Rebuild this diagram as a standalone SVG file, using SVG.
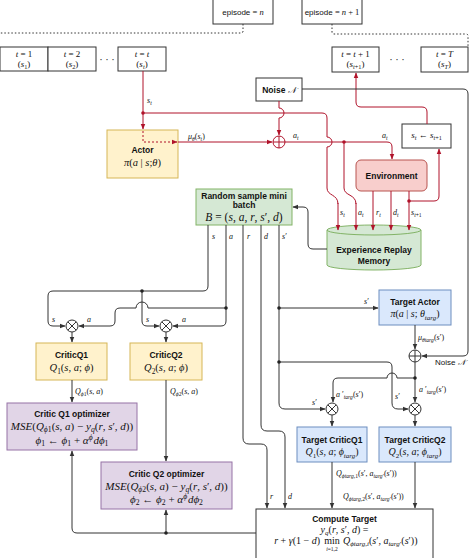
<svg xmlns="http://www.w3.org/2000/svg" width="474" height="558" viewBox="0 0 474 558">
<defs>
<marker id="ag" viewBox="0 0 10 10" refX="9" refY="5" markerWidth="6" markerHeight="6" orient="auto" markerUnits="userSpaceOnUse"><path d="M0,1 L10,5 L0,9 z" fill="#333"/></marker>
<marker id="ar" viewBox="0 0 10 10" refX="9" refY="5" markerWidth="6" markerHeight="6" orient="auto" markerUnits="userSpaceOnUse"><path d="M0,1 L10,5 L0,9 z" fill="#b0122a"/></marker>
</defs>
<style>
.bx{fill:#fff;stroke:#333;stroke-width:1}
.yel{fill:#fff2cc;stroke:#d6b656}
.grn{fill:#d5e8d4;stroke:#82b366}
.pnk{fill:#f8cecc;stroke:#b85450}
.blu{fill:#dae8fc;stroke:#6c8ebf}
.pur{fill:#e1d5e7;stroke:#9673a6}
.g{fill:none;stroke:#333;stroke-width:1}
.r{fill:none;stroke:#b0122a;stroke-width:1}
.ga{marker-end:url(#ag)}
.ra{marker-end:url(#ar)}
.dot{stroke-dasharray:1.5 2}
.dr{stroke-dasharray:2 2}
.b{font-family:"Liberation Sans",Arial,sans-serif;font-weight:bold;font-size:8.5px;text-anchor:middle;fill:#111}
.t{font-family:"Liberation Sans",Arial,sans-serif;font-size:8px;fill:#111}
.m{font-family:"Liberation Serif","DejaVu Serif",serif;font-size:10.5px;text-anchor:middle;fill:#111}
.l{font-family:"Liberation Serif","DejaVu Serif",serif;font-size:8px;fill:#111}
.i{font-style:italic}
.s{font-size:70%}
.c{text-anchor:middle}
.e{text-anchor:end}
.st{text-anchor:start}
</style>

<g id="episode-n"><rect class="bx" x="213" y="-6" width="60" height="30"/><text class="t c" x="243" y="15">episode <tspan class="m" style="font-size:8.5px">= </tspan><tspan class="m i" style="font-size:8.5px">n</tspan></text></g>
<g id="episode-n1"><rect class="bx" x="302" y="-6" width="60" height="30"/><text class="t c" x="332" y="15">episode <tspan class="m" style="font-size:8.5px">= </tspan><tspan class="m i" style="font-size:8.5px">n</tspan><tspan class="m" style="font-size:8.5px"> + 1</tspan></text></g>

<g id="t1"><rect class="bx" x="0" y="47" width="48" height="24"/><text class="m" style="font-size:9px" x="24" y="57"><tspan class="i">t</tspan> = 1</text><text class="m" style="font-size:9px" x="24" y="67">(<tspan class="i">s</tspan><tspan class="s" dy="2">1</tspan><tspan dy="-2">)</tspan></text></g>
<g id="t2"><rect class="bx" x="48" y="47" width="48" height="24"/><text class="m" style="font-size:9px" x="72" y="57"><tspan class="i">t</tspan> = 2</text><text class="m" style="font-size:9px" x="72" y="67">(<tspan class="i">s</tspan><tspan class="s" dy="2">2</tspan><tspan dy="-2">)</tspan></text></g>
<text class="m" x="107" y="63">· · ·</text>
<g id="tt"><rect class="bx" x="118" y="47" width="48" height="24"/><text class="m" style="font-size:9px" x="142" y="57"><tspan class="i">t</tspan> = <tspan class="i">t</tspan></text><text class="m" style="font-size:9px" x="142" y="67">(<tspan class="i">s</tspan><tspan class="s i" dy="2">t</tspan><tspan dy="-2">)</tspan></text></g>
<g id="tt1"><rect class="bx" x="332" y="47" width="47" height="25"/><text class="m" style="font-size:9px" x="355.5" y="57"><tspan class="i">t</tspan> = <tspan class="i">t</tspan> + 1</text><text class="m" style="font-size:9px" x="355.5" y="67">(<tspan class="i">s</tspan><tspan class="s i" dy="2">t</tspan><tspan class="s">+1</tspan><tspan dy="-2">)</tspan></text></g>
<text class="m" x="397" y="63">· · ·</text>
<g id="tT"><rect class="bx" x="421" y="47" width="47" height="25"/><text class="m" style="font-size:9px" x="444.5" y="57"><tspan class="i">t</tspan> = <tspan class="i">T</tspan></text><text class="m" style="font-size:9px" x="444.5" y="67">(<tspan class="i">s</tspan><tspan class="s i" dy="2">T</tspan><tspan dy="-2">)</tspan></text></g>

<g id="noise"><rect class="bx" x="256" y="78" width="46" height="23"/><text class="b" x="279" y="93">Noise <tspan style="font-family:'DejaVu Serif',serif;font-weight:normal;font-style:italic">𝒩</tspan></text></g>
<g id="actor"><rect class="yel" x="107" y="130" width="71" height="48"/><text class="b" x="142.5" y="153">Actor</text><text class="m" x="142.5" y="166"><tspan class="i">π</tspan>(<tspan class="i">a</tspan> | <tspan class="i">s</tspan>;<tspan class="i">θ</tspan>)</text></g>
<g id="env"><rect class="pnk" x="356" y="160" width="71" height="31" rx="5"/><text class="b" x="391.5" y="179">Environment</text></g>
<g id="sbox"><rect class="bx" x="402" y="124" width="49" height="24"/><text class="m" style="font-size:9px" x="426.5" y="138"><tspan class="i">s</tspan><tspan class="s i" dy="2">t</tspan><tspan dy="-2"> ← </tspan><tspan class="i">s</tspan><tspan class="s i" dy="2">t</tspan><tspan class="s">+1</tspan></text></g>
<g id="sample"><rect class="grn" x="196" y="189" width="96" height="36"/><text class="b" x="244" y="199">Random sample mini</text><text class="b" x="244" y="208">batch</text><text class="m" style="font-size:11.5px" x="244" y="221"><tspan class="i">B</tspan> = (<tspan class="i">s</tspan>, <tspan class="i">a</tspan>, <tspan class="i">r</tspan>, <tspan class="i">s</tspan>′, <tspan class="i">d</tspan>)</text></g>
<g id="memory"><path class="grn" d="M327 230 A47 5 0 0 1 421 230 V265 A47 5 0 0 1 327 265 Z"/><path class="grn" d="M327 230 A47 5 0 0 0 421 230"/><text class="b" x="374" y="253">Experience Replay</text><text class="b" x="374" y="264">Memory</text></g>
<g id="targetactor"><rect class="blu" x="379" y="290" width="72" height="35"/><text class="b" x="415" y="305">Target Actor</text><text class="m" style="font-size:10px" x="415" y="317"><tspan class="i">π</tspan>(<tspan class="i">a</tspan> | <tspan class="i">s</tspan>; <tspan class="i">θ</tspan><tspan class="s i" dy="2.5">targ</tspan><tspan dy="-2.5">)</tspan></text></g>
<g id="criticq1"><rect class="yel" x="36" y="343" width="71" height="37"/><text class="b" x="71.5" y="358">CriticQ1</text><text class="m" x="71.5" y="371"><tspan class="i">Q</tspan><tspan class="s" dy="2.5">1</tspan><tspan dy="-2.5">(</tspan><tspan class="i">s</tspan>, <tspan class="i">a</tspan>; <tspan class="i">ϕ</tspan>)</text></g>
<g id="criticq2"><rect class="yel" x="130" y="343" width="72" height="37"/><text class="b" x="166" y="358">CriticQ2</text><text class="m" x="166" y="371"><tspan class="i">Q</tspan><tspan class="s" dy="2.5">2</tspan><tspan dy="-2.5">(</tspan><tspan class="i">s</tspan>, <tspan class="i">a</tspan>; <tspan class="i">ϕ</tspan>)</text></g>
<g id="opt1"><rect class="pur" x="7" y="403" width="130" height="47"/><text class="b" x="72" y="417">Critic Q1 optimizer</text><text class="m" style="font-size:11px" x="72" y="430"><tspan class="i">MSE</tspan>(<tspan class="i">Q</tspan><tspan class="s i" dy="2">ϕ</tspan><tspan class="s">1</tspan><tspan dy="-2">(</tspan><tspan class="i">s</tspan>, <tspan class="i">a</tspan>) − <tspan class="i">y</tspan><tspan class="s i" dy="2">q</tspan><tspan dy="-2">(</tspan><tspan class="i">r</tspan>, <tspan class="i">s</tspan>′, <tspan class="i">d</tspan>))</text><text class="m" style="font-size:11px" x="72" y="443.5"><tspan class="i">ϕ</tspan><tspan class="s" dy="2">1</tspan><tspan dy="-2"> ← </tspan><tspan class="i">ϕ</tspan><tspan class="s" dy="2">1</tspan><tspan dy="-2"> + </tspan><tspan class="i">α</tspan><tspan class="s i" dy="-4">ϕ</tspan><tspan class="i" dy="4" dx="0.8">dϕ</tspan><tspan class="s" dy="2">1</tspan></text></g>
<g id="opt2"><rect class="pur" x="101" y="462" width="131" height="47"/><text class="b" x="166.5" y="477">Critic Q2 optimizer</text><text class="m" style="font-size:11px" x="166.5" y="490"><tspan class="i">MSE</tspan>(<tspan class="i">Q</tspan><tspan class="s i" dy="2">ϕ</tspan><tspan class="s">2</tspan><tspan dy="-2">(</tspan><tspan class="i">s</tspan>, <tspan class="i">a</tspan>) − <tspan class="i">y</tspan><tspan class="s i" dy="2">q</tspan><tspan dy="-2">(</tspan><tspan class="i">r</tspan>, <tspan class="i">s</tspan>′, <tspan class="i">d</tspan>))</text><text class="m" style="font-size:11px" x="166.5" y="503"><tspan class="i">ϕ</tspan><tspan class="s" dy="2">2</tspan><tspan dy="-2"> ← </tspan><tspan class="i">ϕ</tspan><tspan class="s" dy="2">2</tspan><tspan dy="-2"> + </tspan><tspan class="i">α</tspan><tspan class="s i" dy="-4">ϕ</tspan><tspan class="i" dy="4" dx="0.8">dϕ</tspan><tspan class="s" dy="2">2</tspan></text></g>
<g id="tcq1"><rect class="blu" x="297" y="427" width="70" height="35"/><text class="b" x="332" y="443">Target CriticQ1</text><text class="m" style="font-size:10px" x="332" y="455"><tspan class="i">Q</tspan><tspan class="s" dy="2.5">1</tspan><tspan dy="-2.5">(</tspan><tspan class="i">s</tspan>, <tspan class="i">a</tspan>; <tspan class="i">ϕ</tspan><tspan class="s i" dy="2.5">targ</tspan><tspan dy="-2.5">)</tspan></text></g>
<g id="tcq2"><rect class="blu" x="379" y="427" width="72" height="35"/><text class="b" x="415" y="443">Target CriticQ2</text><text class="m" style="font-size:10px" x="415" y="455"><tspan class="i">Q</tspan><tspan class="s" dy="2.5">2</tspan><tspan dy="-2.5">(</tspan><tspan class="i">s</tspan>, <tspan class="i">a</tspan>; <tspan class="i">ϕ</tspan><tspan class="s i" dy="2.5">targ</tspan><tspan dy="-2.5">)</tspan></text></g>
<g id="compute"><rect class="bx" x="256" y="509" width="177" height="52"/><text class="b" x="344.5" y="522">Compute Target</text><text class="m" style="font-size:10px" x="344.5" y="532.5"><tspan class="i">y</tspan><tspan class="s i" dy="2">q</tspan><tspan dy="-2">(</tspan><tspan class="i">r</tspan>, <tspan class="i">s</tspan>′, <tspan class="i">d</tspan>) =</text><text class="m e" style="font-size:10px" x="320" y="544"><tspan class="i">r</tspan> + <tspan class="i">γ</tspan>(1 − <tspan class="i">d</tspan>)</text><text class="m" style="font-size:10px" x="332" y="544">min</text><text class="l c" style="font-size:5.5px" x="332" y="551"><tspan class="i">i</tspan>=1,2</text><text class="m st" style="font-size:10px" x="343" y="544"><tspan class="i">Q</tspan><tspan class="s i" dy="2">ϕtarg,i</tspan><tspan dy="-2">(</tspan><tspan class="i">s</tspan>′, <tspan class="i">a</tspan><tspan class="s i" dy="2">targ</tspan><tspan class="s">′</tspan><tspan dy="-2">(</tspan><tspan class="i">s</tspan>′))</text></g>

<g id="ops">
<circle cx="279" cy="142" r="6" fill="#fff" stroke="#b0122a"/><path class="r" d="M273 142 H285 M279 136 V148"/>
<circle cx="415" cy="356" r="6" fill="#fff" stroke="#333"/><path class="g" d="M409 356 H421 M415 350 V362"/>
<circle cx="72" cy="326" r="6" fill="#fff" stroke="#333"/><path class="g" d="M67.8 321.8 L76.2 330.2 M76.2 321.8 L67.8 330.2"/>
<circle cx="166" cy="326" r="6" fill="#fff" stroke="#333"/><path class="g" d="M161.8 321.8 L170.2 330.2 M170.2 321.8 L161.8 330.2"/>
<circle cx="332" cy="409" r="6" fill="#fff" stroke="#333"/><path class="g" d="M327.8 404.8 L336.2 413.2 M336.2 404.8 L327.8 413.2"/>
<circle cx="415" cy="409" r="6" fill="#fff" stroke="#333"/><path class="g" d="M410.8 404.8 L419.2 413.2 M419.2 404.8 L410.8 413.2"/>
</g>

<g id="connectors">
<path class="g dot" d="M243 24 V31 Q243 33 241 33 H0"/>
<path class="g dot" d="M332 24 V32 Q332 34 334 34 H466 Q468 34 468 36 V47"/>
<path class="r ra" d="M143 71 V129"/>
<path class="r dr ra" d="M143 131 V142 H177"/>
<path class="r" d="M143 113 H322 Q327 113 327 118 V137 A5 5 0 0 1 327 147 V188 C327 196 338 194 338 204"/>
<path class="r ra" d="M338 203 V230"/>
<path class="r ra" d="M279 101 V108 A5 5 0 0 1 279 118 V135"/>
<path class="r ra" d="M178 142 H272"/>
<path class="r ra" d="M285 142 H387 Q392 142 392 147 V159"/>
<path class="r" d="M344 142 V188 C344 196 356 194 356 204"/>
<path class="r ra" d="M356 203 V230"/>
<path class="r ra" d="M373 191 V230"/>
<path class="r ra" d="M391 191 V230"/>
<path class="r ra" d="M409 191 V230"/>
<path class="r ra" d="M409 201 H434 Q439 201 439 196 V149"/>
<path class="r ra" d="M427 124 V112 Q427 107 422 107 H361 Q356 107 356 102 V73"/>
<g fill="#b0122a"><circle cx="143" cy="113" r="1.8"/><circle cx="344" cy="142" r="1.8"/><circle cx="409" cy="201" r="1.8"/></g>
<path class="g ga" d="M302 89 H463 Q468 89 468 94 V351 Q468 356 463 356 H422"/>
<path class="g ga" d="M327 249 H313 Q308 249 308 244 V212 Q308 207 303 207 H293"/>
<path class="g ga" d="M208 225 V286 Q208 291 203 291 H53 Q48 291 48 296 V321 Q48 326 53 326 H65"/>
<path class="g ga" d="M142 291 V321 Q142 326 147 326 H159"/>
<path class="g ga" d="M226 225 V321 Q226 326 221 326 H173"/>
<path class="g ga" d="M226 308 H148 A6 6 0 0 0 136 308 H120 Q115 308 115 313 V321 Q115 326 110 326 H79"/>
<path class="g ga" d="M72 332 V342"/>
<path class="g ga" d="M166 332 V342"/>
<path class="g ga" d="M72 380 V402"/>
<path class="g ga" d="M166 380 V461"/>
<path class="g ga" d="M256 533 H77 Q72 533 72 528 V451"/>
<path class="g ga" d="M166 533 V510"/>
<path class="g ga" d="M243 225 V438 Q243 444 249 444 H261 Q267 444 267 450 V508"/>
<path class="g ga" d="M261 225 V425 Q261 431 267 431 H279 Q285 431 285 437 V508"/>
<path class="g ga" d="M279 225 V403 Q279 409 285 409 H325"/>
<path class="g ga" d="M279 308 H378"/>
<path class="g ga" d="M279 362 H387 Q392 362 392 367 V403 Q392 409 398 409 H408"/>
<path class="g ga" d="M415 325 V349"/>
<path class="g ga" d="M415 362 V402"/>
<path class="g ga" d="M415 378 H397 A5 5 0 0 0 387 378 H338 Q333 378 333 383 V402"/>
<path class="g ga" d="M332 415 V426"/>
<path class="g ga" d="M415 415 V426"/>
<path class="g ga" d="M332 462 V508"/>
<path class="g ga" d="M415 462 V508"/>
<g fill="#222"><circle cx="142" cy="291" r="1.8"/><circle cx="226" cy="308" r="1.8"/><circle cx="166" cy="533" r="1.8"/><circle cx="279" cy="308" r="1.8"/><circle cx="279" cy="362" r="1.8"/><circle cx="415" cy="378" r="1.8"/></g>
</g>

<g id="labels">
<text class="l" x="147" y="103"><tspan class="i">s</tspan><tspan class="s i" dy="2">t</tspan></text>
<text class="l" x="188" y="139"><tspan class="i">μ</tspan><tspan class="s i" dy="2">θ</tspan><tspan dy="-2">(</tspan><tspan class="i">s</tspan><tspan class="s i" dy="2">t</tspan><tspan dy="-2">)</tspan></text>
<text class="l" x="293" y="138"><tspan class="i">a</tspan><tspan class="s i" dy="2">t</tspan></text>
<text class="l" x="382" y="138"><tspan class="i">a</tspan><tspan class="s i" dy="2">t</tspan></text>
<text class="l" x="340" y="215"><tspan class="i">s</tspan><tspan class="s i" dy="2">t</tspan></text>
<text class="l" x="358" y="215"><tspan class="i">a</tspan><tspan class="s i" dy="2">t</tspan></text>
<text class="l" x="376" y="215"><tspan class="i">r</tspan><tspan class="s i" dy="2">t</tspan></text>
<text class="l" x="393" y="215"><tspan class="i">d</tspan><tspan class="s i" dy="2">t</tspan></text>
<text class="l" x="411" y="215"><tspan class="i">s</tspan><tspan class="s i" dy="2">t</tspan><tspan class="s">+1</tspan></text>
<text class="l" x="212" y="239"><tspan class="i">s</tspan></text>
<text class="l" x="229" y="239"><tspan class="i">a</tspan></text>
<text class="l" x="247" y="239"><tspan class="i">r</tspan></text>
<text class="l" x="264" y="239"><tspan class="i">d</tspan></text>
<text class="l" x="282" y="239"><tspan class="i">s</tspan>′</text>
<text class="l" x="52" y="322"><tspan class="i">s</tspan></text>
<text class="l" x="87" y="322"><tspan class="i">a</tspan></text>
<text class="l" x="146" y="322"><tspan class="i">s</tspan></text>
<text class="l" x="182" y="322"><tspan class="i">a</tspan></text>
<text class="l" x="75" y="394"><tspan class="i">Q</tspan><tspan class="s i" dy="2">ϕ</tspan><tspan class="s">1</tspan><tspan dy="-2">(</tspan><tspan class="i">s</tspan>, <tspan class="i">a</tspan>)</text>
<text class="l" x="170" y="394"><tspan class="i">Q</tspan><tspan class="s i" dy="2">ϕ</tspan><tspan class="s">2</tspan><tspan dy="-2">(</tspan><tspan class="i">s</tspan>, <tspan class="i">a</tspan>)</text>
<text class="l" x="364" y="304"><tspan class="i">s</tspan>′</text>
<text class="l" x="418" y="340"><tspan class="i">μ</tspan><tspan class="s i" dy="2">θtarg</tspan><tspan dy="-2">(</tspan><tspan class="i">s</tspan>′)</text>
<text class="t" x="435" y="365">Noise <tspan style="font-family:'DejaVu Serif',serif;font-style:italic">𝒩</tspan></text>
<text class="l" x="312" y="405"><tspan class="i">s</tspan>′</text>
<text class="l" x="395" y="399"><tspan class="i">s</tspan>′</text>
<text class="l" x="336" y="397"><tspan class="i">a</tspan> ′<tspan class="s i" dy="2">targ</tspan><tspan dy="-2">(</tspan><tspan class="i">s</tspan>′)</text>
<text class="l" x="419" y="392"><tspan class="i">a</tspan> ′<tspan class="s i" dy="2">targ</tspan><tspan dy="-2">(</tspan><tspan class="i">s</tspan>′)</text>
<text class="l" x="336" y="476"><tspan class="i">Q</tspan><tspan class="s i" dy="2">ϕtarg</tspan><tspan class="s">,1</tspan><tspan dy="-2">(</tspan><tspan class="i">s</tspan>′, <tspan class="i">a</tspan><tspan class="s i" dy="2">targ</tspan><tspan class="s">′</tspan><tspan dy="-2">(</tspan><tspan class="i">s</tspan>′))</text>
<text class="l" x="343" y="499"><tspan class="i">Q</tspan><tspan class="s i" dy="2">ϕtarg</tspan><tspan class="s">,2</tspan><tspan dy="-2">(</tspan><tspan class="i">s</tspan>′, <tspan class="i">a</tspan><tspan class="s i" dy="2">targ</tspan><tspan class="s">′</tspan><tspan dy="-2">(</tspan><tspan class="i">s</tspan>′))</text>
<text class="l" x="270" y="499"><tspan class="i">r</tspan></text>
<text class="l" x="288" y="499"><tspan class="i">d</tspan></text>
</g>
</svg>
